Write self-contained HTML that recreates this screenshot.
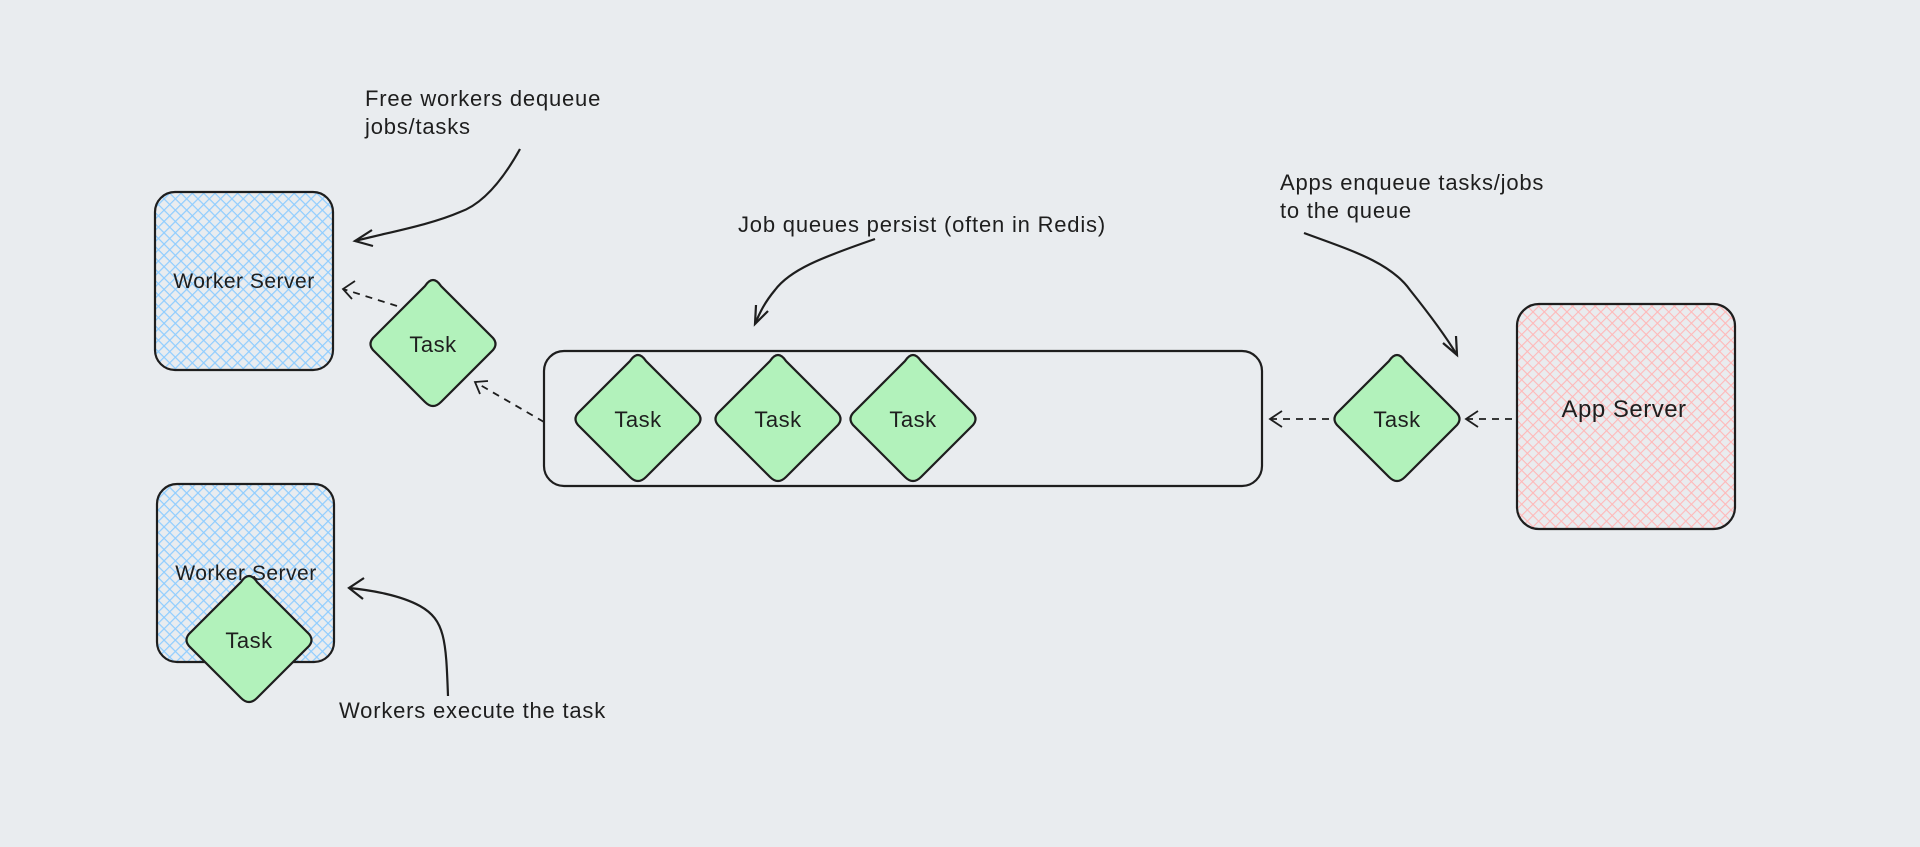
<!DOCTYPE html>
<html><head><meta charset="utf-8"><style>
html,body{margin:0;padding:0;background:#e9ecef;}
svg{display:block;}
text{font-family:"Liberation Sans",sans-serif;fill:#1e1e1e;}
</style></head><body>
<svg width="1920" height="847" viewBox="0 0 1920 847" xmlns="http://www.w3.org/2000/svg">
<defs>
<pattern id="hb" width="8" height="8" patternUnits="userSpaceOnUse" patternTransform="rotate(45)">
<rect width="8" height="8" fill="#e9ecef"/>
<line x1="0" y1="0" x2="0" y2="8" stroke="#8fcdff" stroke-width="2.4"/>
<line x1="0" y1="0" x2="8" y2="0" stroke="#8fcdff" stroke-width="2.4"/>
</pattern>
<pattern id="hp" width="8" height="8" patternUnits="userSpaceOnUse" patternTransform="rotate(45)">
<rect width="8" height="8" fill="#e9ecef"/>
<line x1="0" y1="0" x2="0" y2="8" stroke="#ffb8b8" stroke-width="2.2"/>
<line x1="0" y1="0" x2="8" y2="0" stroke="#ffb8b8" stroke-width="2.2"/>
</pattern>
<g id="dia">
<path d="M0,-64 Q4,-64 8,-58 L60,-6 Q65,0 60,6 L8,58 Q0,66 -8,58 L-60,6 Q-65,0 -60,-6 L-8,-58 Q-4,-64 0,-64Z" fill="#b2f2bb" stroke="#1e1e1e" stroke-width="2.2"/>
<text x="0" y="8" text-anchor="middle" font-size="22" letter-spacing="0.5">Task</text>
</g>
</defs>
<rect width="1920" height="847" fill="#e9ecef"/>

<rect x="155" y="192" width="178" height="178" rx="20" fill="url(#hb)" stroke="#1e1e1e" stroke-width="2.2"/>
<text x="244" y="288" text-anchor="middle" font-size="21" letter-spacing="0.5">Worker Server</text>
<rect x="157" y="484" width="177" height="178" rx="20" fill="url(#hb)" stroke="#1e1e1e" stroke-width="2.2"/>
<text x="246" y="580" text-anchor="middle" font-size="21" letter-spacing="0.5">Worker Server</text>
<use href="#dia" x="249" y="640"/>

<rect x="544" y="351" width="718" height="135" rx="20" fill="none" stroke="#1e1e1e" stroke-width="2.2"/>
<use href="#dia" x="638" y="419"/>
<use href="#dia" x="778" y="419"/>
<use href="#dia" x="913" y="419"/>

<use href="#dia" x="433" y="344"/>
<use href="#dia" x="1397" y="419"/>

<rect x="1517" y="304" width="218" height="225" rx="22" fill="url(#hp)" stroke="#1e1e1e" stroke-width="2.2"/>
<text x="1624" y="417" text-anchor="middle" font-size="24" letter-spacing="0.5">App Server</text>

<g fill="none" stroke="#1e1e1e" stroke-width="1.8">
<path d="M397,306 L343,289" stroke-dasharray="7,6"/>
<path d="M355,281 L343,289 L352,299"/>
<path d="M544,422 L475,382" stroke-dasharray="7,6"/>
<path d="M480,394 L475,382 L488,381"/>
<path d="M1329,419 L1270,419" stroke-dasharray="7,6"/>
<path d="M1282,411 L1270,419 L1282,427"/>
<path d="M1512,419 L1466,419" stroke-dasharray="7,6"/>
<path d="M1478,411 L1466,419 L1478,427"/>
</g>

<g fill="none" stroke="#1e1e1e" stroke-width="2.2">
<path d="M520,149 C500,185 480,205 460,212 C430,225 390,232 355,241"/>
<path d="M372,230 L355,241 L373,246"/>
<path d="M875,239 C820,258 790,270 775,290 C765,302 760,312 755,324"/>
<path d="M756,305 L755,324 L768,311"/>
<path d="M1304,233 C1350,250 1390,262 1410,290 C1430,315 1445,335 1457,355"/>
<path d="M1443,343 L1457,355 L1456,336"/>
<path d="M448,696 C446,640 445,620 420,606 C400,595 370,590 349,588"/>
<path d="M364,578 L349,588 L363,599"/>
</g>

<g font-size="22" letter-spacing="0.8">
<text x="365" y="106">Free workers dequeue</text>
<text x="365" y="134">jobs/tasks</text>
<text x="738" y="232">Job queues persist (often in Redis)</text>
<text x="1280" y="190">Apps enqueue tasks/jobs</text>
<text x="1280" y="218">to the queue</text>
<text x="339" y="718">Workers execute the task</text>
</g>
</svg>
</body></html>
